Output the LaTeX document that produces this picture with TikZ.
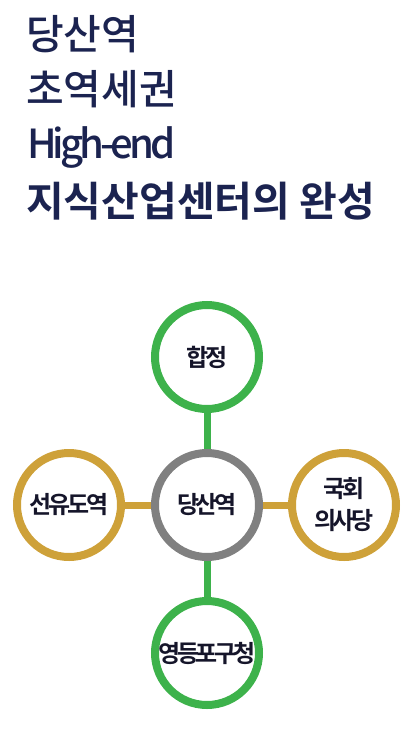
\documentclass[tikz,border=0pt]{standalone}
\usepackage{fontspec}
\setmainfont{Noto Sans CJK KR}
\newfontfamily\titlefont{Noto Sans CJK KR Medium}
\newfontfamily\titlelatin[LetterSpace=-10]{Noto Sans CJK KR Medium}
\newfontfamily\titlebold{Noto Sans CJK KR Bold}
\newfontfamily\labelfont[LetterSpace=-14]{Noto Sans CJK KR Bold}
\usetikzlibrary{backgrounds}
\definecolor{navy}{HTML}{1B2350}
\definecolor{ringgreen}{HTML}{3DB24B}
\definecolor{ringgold}{HTML}{CEA139}
\definecolor{ringgray}{HTML}{808080}
\definecolor{labelink}{HTML}{15152A}
\tikzset{
  titletext/.style={anchor=base west, inner sep=0pt, text=navy, font=\titlefont\fontsize{41}{44}\selectfont},
  titlelat/.style={titletext, font=\titlelatin\fontsize{40}{44}\selectfont},
  titlestrong/.style={titletext, font=\titlebold\fontsize{41}{44}\selectfont},
  ring/.style={circle, minimum size=104pt, inner sep=0pt, line width=8pt, fill=white, draw=#1},
  ringlabel/.style={inner sep=0pt, text=labelink, align=center, font=\labelfont\fontsize{24}{32}\selectfont},
  link/.style={line width=7pt, draw=#1},
}
\begin{document}
\begin{tikzpicture}[x=1pt,y=1pt]
\useasboundingbox (0,0) rectangle (408,-734);
\node[titletext] (t1) at (26,-49) {당산역};
\node[titletext] (t2) at (26,-104) {초역세권};
\node[titlelat] (t3) at (27,-158) {High-end};
\node[titlestrong] (t4) at (26,-216) {지식산업센터의 완성};

\node[ring=ringgray]  (c) at (207,-505) {};
\node[ring=ringgreen] (n) at (207,-357) {};
\node[ring=ringgreen] (s) at (207,-653) {};
\node[ring=ringgold]  (w) at (69,-505) {};
\node[ring=ringgold]  (e) at (344,-505) {};

\begin{scope}[on background layer]
\draw[link=ringgreen] (n) -- (c);
\draw[link=ringgreen] (c) -- (s);
\draw[link=ringgold] (w) -- (c);
\draw[link=ringgold] (c) -- (e);
\end{scope}

\node[ringlabel] (lc) at (c.center) {당산역};
\node[ringlabel] (ln) at (n.center) {합정};
\node[ringlabel] (ls) at (s.center) {영등포구청};
\node[ringlabel] (lw) at (w.center) {선유도역};
\node[ringlabel] (le) at (e.center) {국회\\의사당};
\end{tikzpicture}
\end{document}
